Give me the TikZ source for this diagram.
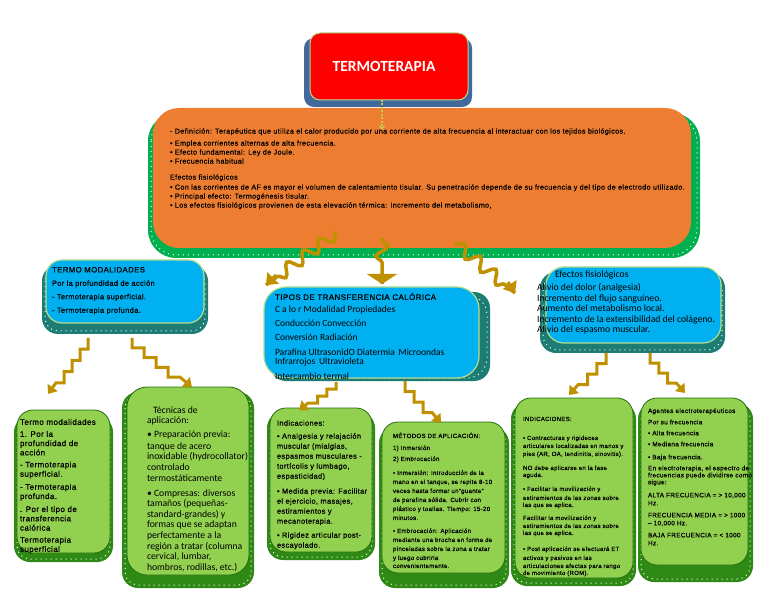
\documentclass[tikz,border=0pt]{standalone}
\usepackage{fontspec}
\setmainfont{Liberation Sans}
\newfontfamily\arfont[LetterSpace=5,FakeBold=0.6]{Liberation Sans}
\newfontfamily\calfont{Carlito}
\usetikzlibrary{decorations.pathmorphing,arrows.meta,calc}
\definecolor{redbox}{HTML}{FF0000}
\definecolor{steel}{HTML}{41699C}
\definecolor{orng}{HTML}{ED7D31}
\definecolor{gshadow}{HTML}{00B050}
\definecolor{cyanbox}{HTML}{00B0F0}
\definecolor{tealsh}{HTML}{1D7C74}
\definecolor{lgreen}{HTML}{92D050}
\definecolor{dgreen}{HTML}{2E8A14}
\definecolor{gold}{HTML}{BF9000}
\definecolor{rim}{HTML}{B4DC8C}
\definecolor{khaki}{HTML}{C8C850}
\newcommand\rbox[6]{\node[panel,#6,minimum width={#4-#2},minimum height={#5-#3}] (#1) at (#2,#3) {};}
\newcommand\dotrim[5]{\draw[dotrim,rounded corners=#5] (#1+3,#2+3) rectangle (#3-3,#4-3);}
\begin{document}
\begin{tikzpicture}[x=1pt,y=-1pt,
  panel/.style={anchor=north west, inner sep=0, outer sep=0, rectangle},
  redb/.style={fill=redbox, draw=rim, line width=1pt, rounded corners=10pt},
  redsh/.style={fill=steel, rounded corners=10pt},
  orb/.style={fill=orng, rounded corners=26pt},
  orsh/.style={fill=gshadow, rounded corners=28pt},
  cyb/.style={fill=cyanbox, draw=rim, line width=1.2pt, rounded corners=16pt},
  cysh/.style={fill=tealsh, rounded corners=16pt},
  grb/.style={fill=lgreen, draw=dgreen!80!black, line width=0.8pt, rounded corners=16pt},
  grsh/.style={fill=dgreen, rounded corners=16pt},
  dotrim/.style={draw=white, line width=1pt, dash pattern=on 1pt off 4pt},
  txt/.style={anchor=north west, inner sep=0, outer sep=0, align=left, text=black},
  bolt/.style={draw=gold, line width=3.5pt, decorate,
    decoration={snake, segment length=20pt, amplitude=6pt, pre length=2pt, post length=12pt}},
  stair/.style={draw=gold, line width=3pt, -{Triangle[length=8pt,width=12pt]}}
]
\useasboundingbox (0,0) rectangle (768,593);
\fill[white] (0,0) rectangle (768,593);

% ---------- title
\rbox{redS}{304}{38}{472}{107}{redsh}
\rbox{red}{310}{33}{468}{100}{redb}
\node[text=white, font=\calfont\bfseries\fontsize{15.5}{18}\selectfont] (title) at (384,66) {TERMOTERAPIA};

% ---------- orange box
\rbox{orS}{148}{113}{700}{258}{orsh}
\dotrim{148}{113}{700}{258}{25pt}
\rbox{orange}{153}{108}{691}{248}{orb}
\node[txt, font=\arfont\fontsize{7.2}{9}\selectfont] (ortext) at (170,128.3) {%
- Definición: Terapéutica que utiliza el calor producido por una corriente de alta frecuencia al interactuar con los tejidos biológicos.\\[3pt]
• Emplea corrientes alternas de alta frecuencia.\\
• Efecto fundamental: Ley de Joule.\\
• Frecuencia habitual\\[7pt]
Efectos fisiológicos\\[1pt]
• Con las corrientes de AF es mayor el volumen de calentamiento tisular. Su penetración depende de su frecuencia y del tipo de electrodo utilizado.\\
• Principal efecto: Termogénesis tisular.\\
• Los efectos fisiológicos provienen de esta elevación térmica: Incremento del metabolismo,};

% ---------- blue boxes
\rbox{lbS}{42}{265}{208}{334}{cysh}
\dotrim{42}{265}{208}{334}{13pt}
\rbox{lb}{46}{260}{204}{323}{cyb}
\node[txt, font=\arfont\fontsize{7.8}{10}\selectfont] (lbtitle) at (52,267) {TERMO MODALIDADES};
\node[txt, font=\arfont\fontsize{7.4}{13.5}\selectfont] (lbtext) at (52,280.3) {Por la profundidad de acción\\- Termoterapia superficial.\\- Termoterapia profunda.};

\rbox{cbS}{270}{292}{490}{381}{cysh}
\dotrim{270}{292}{490}{381}{20pt}
\rbox{cb}{264}{287}{479}{378}{cyb,rounded corners=22pt}
\node[txt, font=\arfont\fontsize{8}{10}\selectfont] (cbtitle) at (275,293) {TIPOS DE TRANSFERENCIA CALÓRICA};
\node[txt, font=\calfont\fontsize{9.5}{14}\selectfont] (cbtext) at (275,305.5) {C a lo r Modalidad Propiedades\\Conducción Convección\\Conversión Radiación\\[1pt]Parafina UltrasonidO Diatermia\, Microondas\\[-5pt]Infrarrojos\, Ultravioleta\\[1pt]Intercambio termal};

\rbox{rbS}{540}{272}{725}{353}{cysh}
\dotrim{540}{272}{725}{353}{15pt}
\rbox{rb}{546}{267}{721}{343}{cyb,rounded corners=18pt}
\node[txt, font=\calfont\fontsize{9.7}{10.5}\selectfont] (rbtitle) at (555,270.5) {Efectos fisiológicos};
\node[txt, font=\calfont\fontsize{9.7}{10.5}\selectfont] (rbtext) at (537,283.5) {Alivio del dolor (analgesia)\\Incremento del flujo sanguíneo.\\Aumento del metabolismo local.\\Incremento de la extensibilidad del colágeno.\\Alivio del espasmo muscular.};

% ---------- green boxes
\rbox{g1S}{14}{416}{113}{562}{grsh}
\dotrim{14}{416}{113}{562}{13pt}
\rbox{g1}{17}{410}{110}{553}{grb}
\node[txt, font=\arfont\fontsize{8}{9.3}\selectfont] (g1text) at (20,419) {Termo modalidades\\[2.7pt]1. Por la\\profundidad de\\acción\\[2.7pt]- Termoterapia\\superficial.\\[3.7pt]- Termoterapia\\profunda.\\[3.7pt]. Por el tipo de\\transferencia\\calórica\\[2.7pt]Termoterapia\\superficial};

\rbox{g2S}{122}{392}{254}{588}{grsh}
\dotrim{122}{392}{254}{588}{13pt}
\rbox{g2}{127}{387}{249}{575}{grb,rounded corners=20pt}
\node[txt, font=\calfont\fontsize{9.7}{10.6}\selectfont] (g2text) at (147,406.5) {\hspace*{6pt}Técnicas de\\[-0.6pt]aplicación:\\[3.4pt]• Preparación previa:\\[1.4pt]tanque de acero\\inoxidable (hydrocollator)\\controlado\\termostáticamente\\[4.4pt]• Compresas: diversos\\tamaños (pequeñas-\\standard-grandes) y\\formas que se adaptan\\perfectamente a la\\región a tratar (columna\\cervical, lumbar,\\hombros, rodillas, etc.)};

\rbox{g3S}{267}{412}{375}{560}{grsh}
\dotrim{267}{412}{375}{560}{13pt}
\rbox{g3}{270}{408}{372}{552}{grb}
\node[txt, font=\arfont\fontsize{7.4}{10}\selectfont] (g3text) at (277,420.3) {Indicaciones:\\[3pt]• Analgesia y relajación\\muscular (mialgias,\\espasmos musculares -\\tortícolis y lumbago,\\espasticidad)\\[5pt]• Medida previa: Facilitar\\el ejercicio, masajes,\\estiramientos y\\mecanoterapia.\\[4pt]• Rigidez articular post-\\escayolado.};

\rbox{g4S}{379}{427}{509}{588}{grsh}
\dotrim{379}{427}{509}{588}{13pt}
\rbox{g4}{382}{422}{505}{573}{grb}
\node[txt, font=\arfont\fontsize{6.1}{9}\selectfont] (g4text) at (393,432.7) {MÉTODOS DE APLICACIÓN:\\[3pt]1) Inmersión\\[2pt]2) Embrocación\\[5pt]• Inmersión: Introducción de la\\mano en el tanque, se repite 8-10\\veces hasta formar un“guante”\\de parafina sólida. Cubrir con\\plástico y toallas. Tiempo: 15-20\\minutos.\\[4pt]• Embrocación: Aplicación\\mediante una brocha en forma de\\pinceladas sobre la zona a tratar\\y luego cubrirla\\[-1pt]convenientemente.};

\rbox{g5S}{511}{403}{636}{586}{grsh}
\dotrim{511}{403}{636}{586}{13pt}
\rbox{g5}{515}{398}{633}{578}{grb}
\node[txt, font=\arfont\fontsize{6}{8}\selectfont] (g5text) at (523,416.8) {INDICACIONES:\\[11pt]• Contracturas y rigideces\\articulares localizadas en manos y\\pies (AR, OA, tendinitis, sinovitis).\\[6pt]NO debe aplicarse en la fase\\[-1pt]aguda.\\[6pt]• Facilitar la movilización y\\[1pt]estiramientos de las zonas sobre\\[-1pt]las que se aplica.\\[5pt]Facilitar la movilización y\\estiramientos de las zonas sobre\\[-1pt]las que se aplica.\\[8pt]• Post aplicación se efectuará ET\\[1pt]activos y pasivos en las\\articulaciones afectas para rango\\[-1pt]de movimiento (ROM).};

\rbox{g6S}{638}{403}{753}{582}{grsh}
\dotrim{638}{403}{753}{582}{13pt}
\rbox{g6}{641}{398}{748}{565}{grb}
\node[txt, font=\arfont\fontsize{6.4}{9}\selectfont] (g6text) at (648,408.3) {Agentes electroterapéuticos\\[2.3pt]Por su frecuencia\\[2pt]• Alta frecuencia\\[2pt]• Mediana frecuencia\\[4pt]• Baja frecuencia.\\[2pt]En electroterapia, el espectro de\\[-2pt]frecuencias puede dividirse como\\[-2pt]sigue:\\[4pt]ALTA FRECUENCIA = > 10,000\\[-1pt]Hz.\\[3pt]FRECUENCIA MEDIA = > 1000\\[-1pt]– 10,000 Hz.\\[3pt]BAJA FRECUENCIA = < 1000\\[-1pt]Hz.};

% ---------- connectors
\coordinate (c0a) at (382,100);
\coordinate (c0b) at (382,130);
\draw[khaki, line width=1.5pt, dash pattern=on 2pt off 1.5pt, -{Straight Barb[length=3pt,width=5pt]}] (red.south -| c0a) -- (c0b);

\coordinate (b1a) at (337,232);
\coordinate (b1b) at (266,285);
\draw[bolt] (b1a) -- (b1b);
\coordinate (b2a) at (382,238);
\coordinate (b2b) at (382,284);
\draw[bolt] (b2a) -- (b2b);
\coordinate (b3a) at (455,243);
\coordinate (b3b) at (515,293);
\draw[bolt] (b3a) -- (b3b);

\draw[draw=gold, line width=3pt, -{Triangle[length=10pt,width=16pt]}] ($(b1b)+(10,-10)$) -- (b1b);
\draw[draw=gold, line width=3pt, -{Triangle[length=10pt,width=30pt]}] ($(b2b)+(0,-8)$) -- (b2b);
\draw[draw=gold, line width=3pt, -{Triangle[length=10pt,width=16pt]}] ($(b3b)+(-7,-11)$) -- (b3b);

\coordinate (s1a) at (88,338);  \coordinate (s1b) at (48,394);
\coordinate (s2a) at (132,338); \coordinate (s2b) at (192,387);
\coordinate (s3a) at (336,382); \coordinate (s3b) at (299,410);
\coordinate (s4a) at (405,381); \coordinate (s4b) at (441,423);
\coordinate (s5a) at (606,353); \coordinate (s5b) at (569,395);
\coordinate (s6a) at (650,353); \coordinate (s6b) at (685,393);
\draw[stair] (s1a) \foreach \i in {1,...,4}{ |- ($(s1a)!\i/5!(s1b)$) } -- (s1b);
\draw[stair] (s2a) \foreach \i in {1,...,4}{ |- ($(s2a)!\i/5!(s2b)$) } -- (s2b);
\draw[stair] (s3a) \foreach \i in {1,...,3}{ |- ($(s3a)!\i/4!(s3b)$) } -- (s3b);
\draw[stair] (s4a) \foreach \i in {1,...,3}{ |- ($(s4a)!\i/4!(s4b)$) } -- (s4b);
\draw[stair] (s5a) \foreach \i in {1,...,3}{ |- ($(s5a)!\i/4!(s5b)$) } -- (s5b);
\draw[stair] (s6a) \foreach \i in {1,...,3}{ |- ($(s6a)!\i/4!(s6b)$) } -- (s6b);
\end{tikzpicture}
\end{document}
